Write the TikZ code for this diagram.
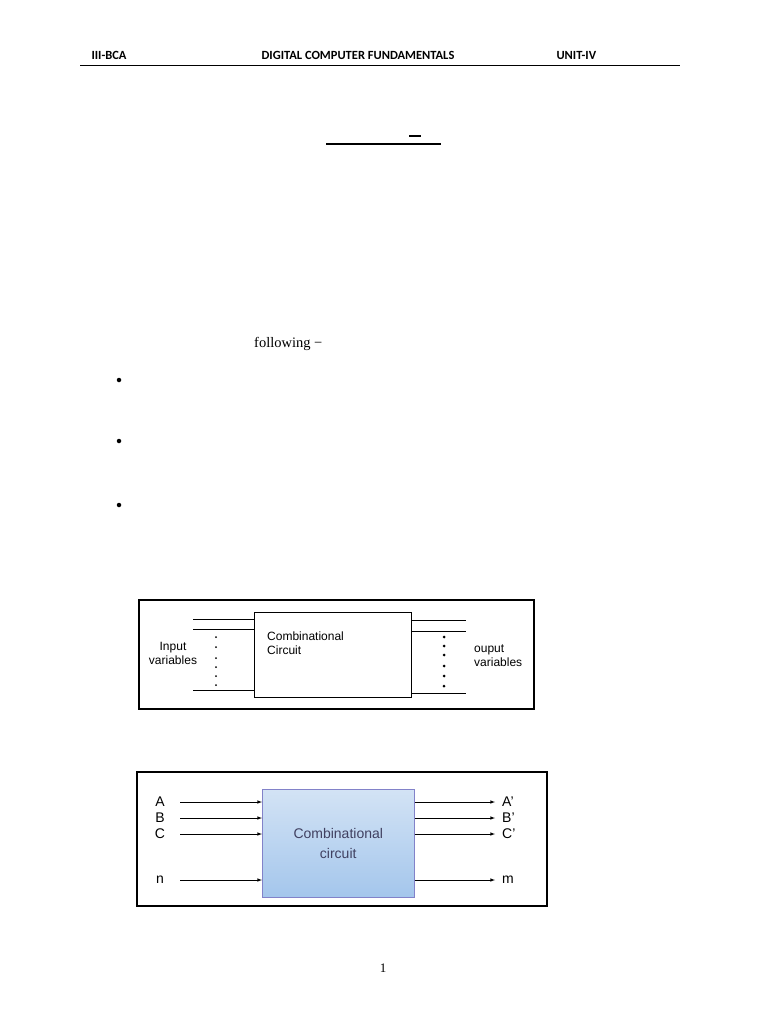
\documentclass[tikz,border=0pt]{standalone}
\usepackage{fontspec}
\setmainfont{Liberation Serif}
\newfontfamily\calfnt{Carlito}
\newfontfamily\arsfnt{Liberation Sans}
\definecolor{topb}{HTML}{D3E3F5}
\definecolor{botb}{HTML}{A4C6EC}
\begin{document}
\begin{tikzpicture}[x=1pt,y=-1pt,
  hdr/.style={font=\calfnt\bfseries\fontsize{12.5}{14}\selectfont,anchor=base},
  lbl/.style={font=\arsfnt\fontsize{12}{14}\selectfont,inner sep=0pt,align=left},
  lbl2/.style={font=\arsfnt\fontsize{14}{14}\selectfont,inner sep=0pt},
  wire/.style={line width=0.6pt},
  arr/.style={line width=0.6pt,-latex},
  dotc/.style={circle,fill=black,inner sep=0pt,minimum size=2.4pt}]
\useasboundingbox (0,0) rectangle (768,1024);
\fill[white] (0,0) rectangle (768,1024);
% header
\node[hdr,anchor=base west] (h1) at (88,60) {III-BCA};
\node[hdr] (h2) at (358,60) {DIGITAL COMPUTER FUNDAMENTALS};
\node[hdr,anchor=base west] (h3) at (553,60) {UNIT-IV};
\draw[line width=0.8pt] (80,65) -- (680,65);
% title
\draw[line width=1.3pt] (409,136) -- (421,136);
\draw[line width=1.3pt] (326,144) -- (441,144);
\node[font=\fontsize{14.5}{16}\selectfont,anchor=base west,inner sep=0pt] (fol) at (254,347) {following −};
\foreach \y/\n in {380/b1,441/b2,505/b3} \node[circle,fill=black,inner sep=0pt,minimum size=4.5pt] (\n) at (119,\y) {};
% diagram 1
\draw[line width=1.3pt] (139,600) rectangle (534,709);
\node[draw,line width=0.7pt,minimum width=157pt,minimum height=85pt,anchor=north west] (cc) at (254,612) {};
\coordinate (i1) at (193,619); \coordinate (i2) at (193,629); \coordinate (i3) at (193,690);
\draw[wire] (i1) -- (i1 -| cc.west);
\draw[wire] (i2) -- (i2 -| cc.west);
\draw[wire] (i3) -- (i3 -| cc.west);
\coordinate (o1) at (466,620); \coordinate (o2) at (466,631); \coordinate (o3) at (466,693);
\draw[wire] (o1 -| cc.east) -- (o1);
\draw[wire] (o2 -| cc.east) -- (o2);
\draw[wire] (o3 -| cc.east) -- (o3);
\foreach \y [count=\i] in {637,647,658,667,676,685} \node[dotc,minimum size=2pt] (di\i) at (216,\y) {};
\foreach \y [count=\i] in {637,646,655,666,676,686} \node[dotc,minimum size=3pt] (do\i) at (444,\y) {};
\node[lbl,align=center] (inv) at (173,653) {Input\\variables};
\node[lbl,anchor=north west] (ccl) at (267,632) {Combinational\\Circuit};
\node[lbl,anchor=west] (outv) at (474,656) {ouput\\variables};
% diagram 2
\draw[line width=1.3pt] (137,772) rectangle (547,906);
\shade[top color=topb,bottom color=botb] (262,789) rectangle (414,897);
\node[draw=gray!60!blue!70,line width=0.5pt,minimum width=152pt,minimum height=108pt,anchor=north west,
  font=\arsfnt\fontsize{14}{20}\selectfont,text=black!75!blue!50!gray,align=center] (cb) at (262,789) {Combinational\\circuit};
\foreach \y/\a/\b [count=\i] in {802/A/A’,818/B/B’,834/C/C’,880/n/m} {
  \node[lbl2] (in\i) at (160,\y) {\a};
  \node[lbl2,anchor=west] (out\i) at (502,\y) {\b};
  \coordinate (s\i) at (180,\y);
  \coordinate (t\i) at (495,\y);
  \draw[arr] (s\i) -- (s\i -| cb.west);
  \draw[arr] (t\i -| cb.east) -- (t\i);
}
\node[font=\fontsize{13}{14}\selectfont] (pg) at (383,968) {1};
\end{tikzpicture}
\end{document}
